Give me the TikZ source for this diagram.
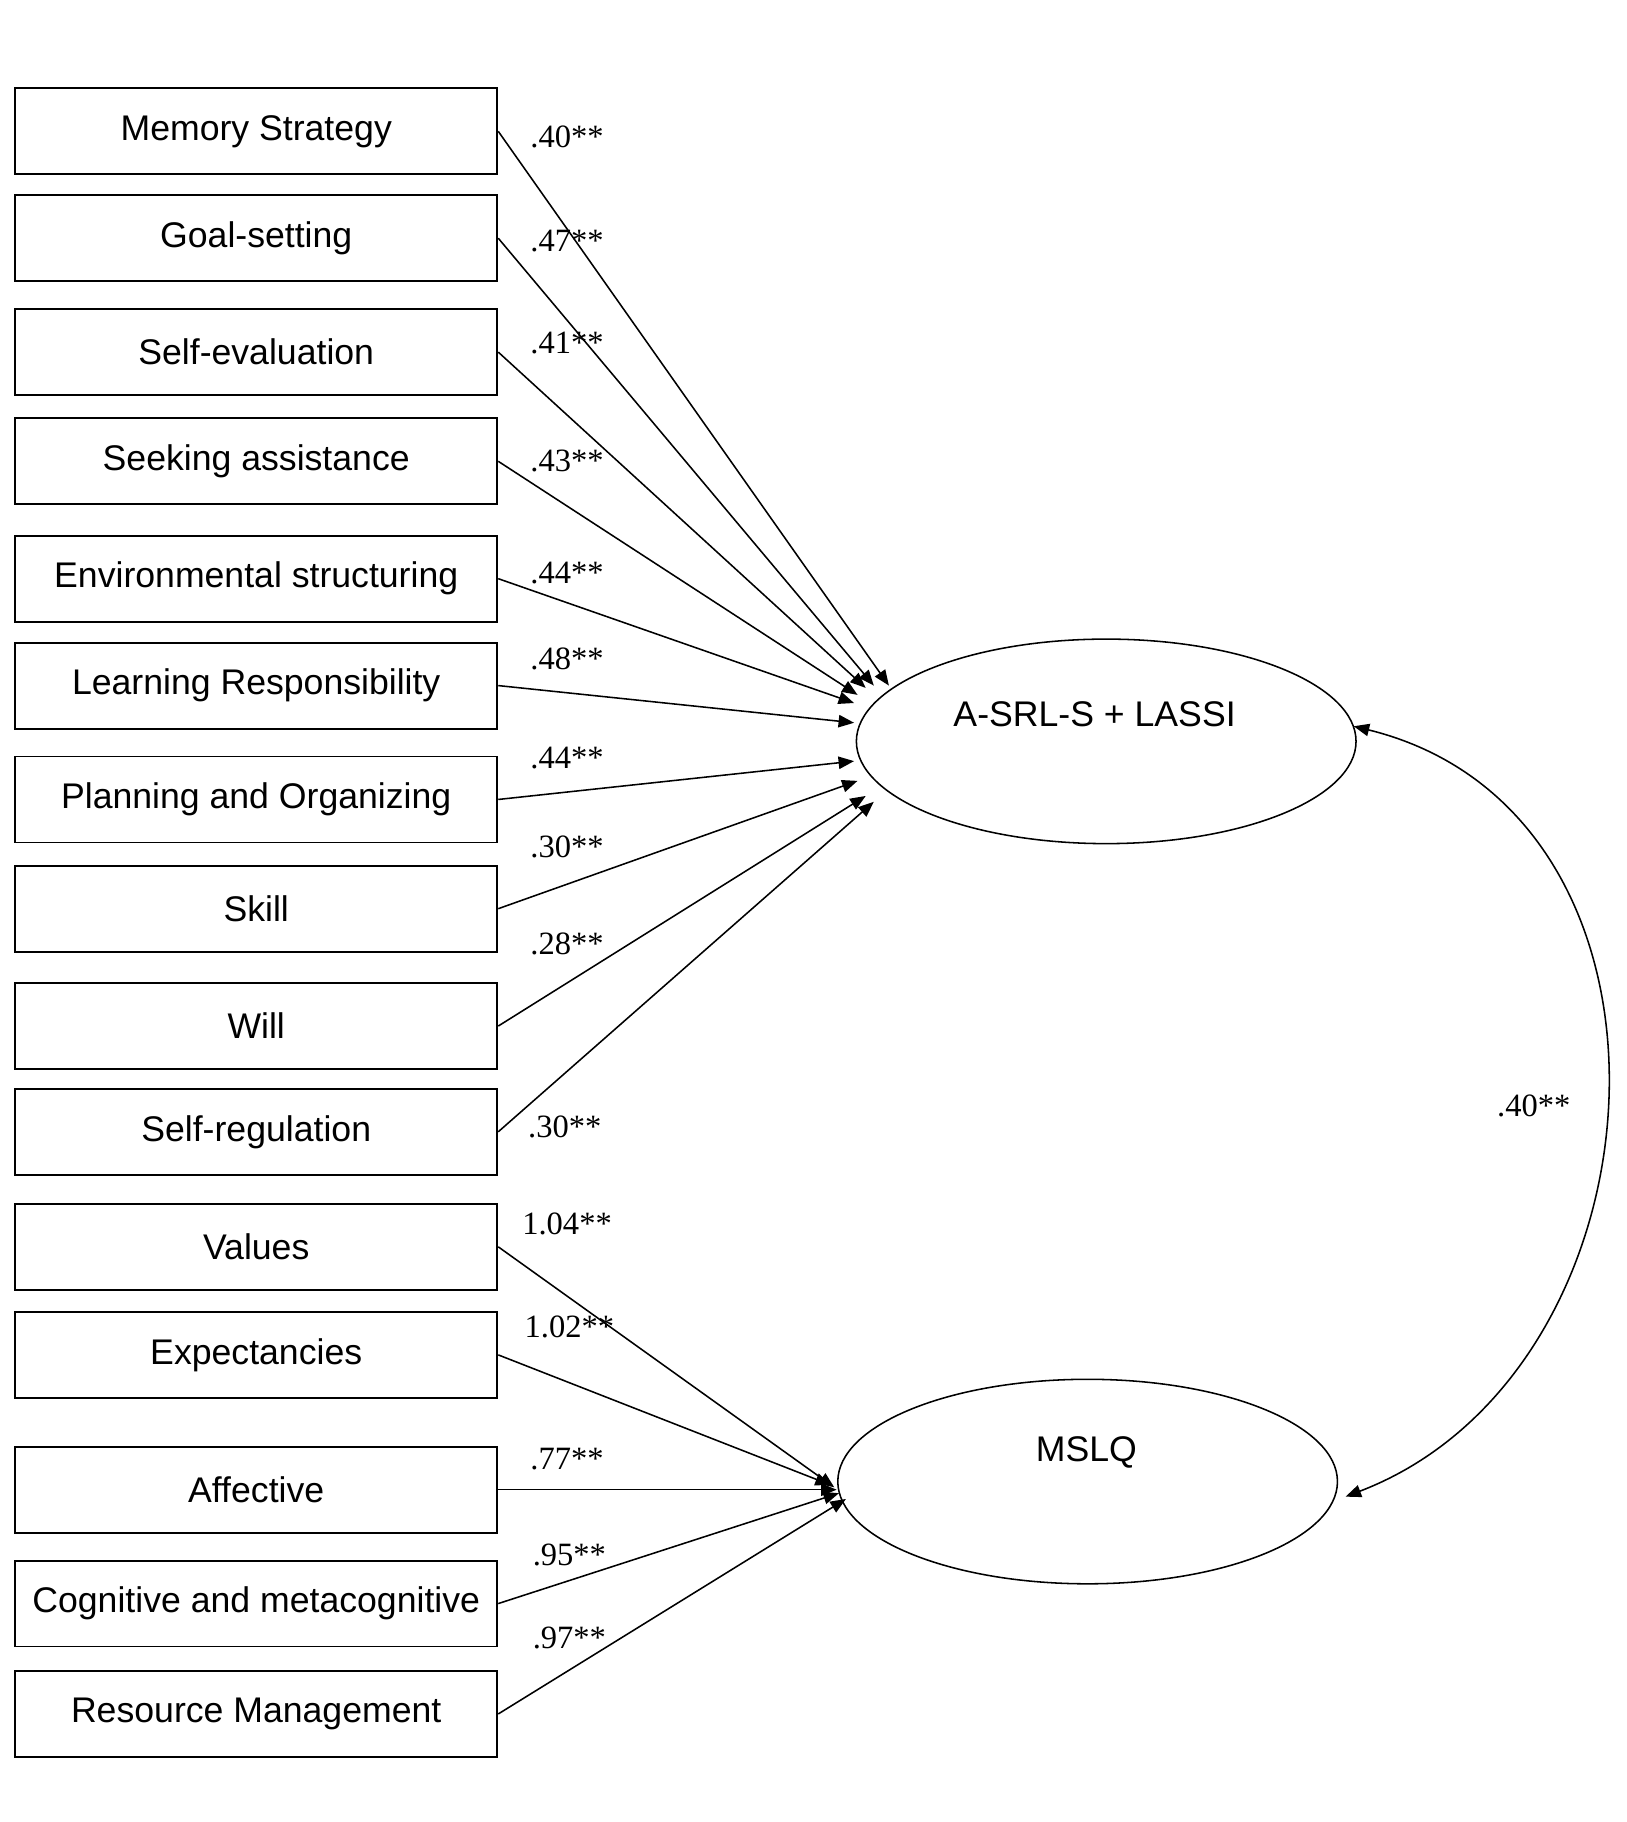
\documentclass[tikz,border=0pt]{standalone}
\usepackage{fontspec}
\setmainfont{Liberation Sans}
\newfontfamily\tms{Liberation Serif}
\usetikzlibrary{arrows.meta,shapes.geometric}
\begin{document}
\begin{tikzpicture}[x=0.75pt,y=-0.75pt,
 box/.style={draw,line width=1.2pt,minimum width=415*0.75pt,minimum height=74*0.75pt,inner sep=0pt,font=\fontsize{23}{26}\selectfont},
 lat/.style={draw,line width=1pt,ellipse,minimum width=430*0.75pt,minimum height=176*0.75pt,inner sep=0pt},
 arr/.style={-{Triangle[length=10pt,width=8pt]},line width=1pt},
 lab/.style={font=\tms\fontsize{21}{24}\selectfont,inner sep=0pt}]
\useasboundingbox (0,0) rectangle (1400,1568);
\foreach \n/\y/\t in {b1/113/Memory Strategy,b2/205/Goal-setting,b3/303/Self-evaluation,b4/397/Seeking assistance,b5/498/Environmental structuring,b6/590/Learning Responsibility,b7/688/Planning and Organizing,b8/782/Skill,b9/883/Will,b10/974/Self-regulation,b11/1073/Values,b12/1166/Expectancies,b13/1282/Affective,b14/1380/Cognitive and metacognitive,b15/1475/Resource Management}
  \node[box] (\n) at (220.5,\y) {\t};
\node[lat] (e1) at (952,638) {};
\node[font=\fontsize{23}{26}\selectfont] (t1) at (942,615) {A-SRL-S + LASSI};
\node[lat] (e2) at (936,1275) {};
\node[font=\fontsize{23}{26}\selectfont] (t2) at (935,1250) {MSLQ};
\foreach \n/\x/\y in {1/765/590,2/752/590,3/745/592,4/738/598,5/735/605,6/735/622,7/735/655,8/738/672,9/745/685,10/752/690}
  {\coordinate (p\n) at (\x,\y); \draw[arr] (b\n.east) -- (p\n);}
\foreach \n/\x/\y in {11/718/1280,12/715/1278,13/720/1282,14/722/1285,15/728/1290}
  {\coordinate (p\n) at (\x,\y); \draw[arr] (b\n.east) -- (p\n);}
\foreach \x/\y/\t in {488/118/.40**,488/207/.47**,488/295/.41**,488/397/.43**,488/493/.44**,488/567/.48**,488/652/.44**,488/729/.30**,488/812/.28**,486/970/.30**,488/1053/1.04**,490/1142/1.02**,488/1256/.77**,490/1338/.95**,490/1410/.97**,1320/952/.40**}
  \node[lab] at (\x,\y) {\t};
\coordinate (c1) at (1165,625);
\coordinate (c2) at (1158,1288);
\draw[{Triangle[length=10pt,width=8pt]}-{Triangle[length=10pt,width=8pt]},line width=1pt] (c1) .. controls (1470,700) and (1440,1180) .. (c2);
\end{tikzpicture}
\end{document}
